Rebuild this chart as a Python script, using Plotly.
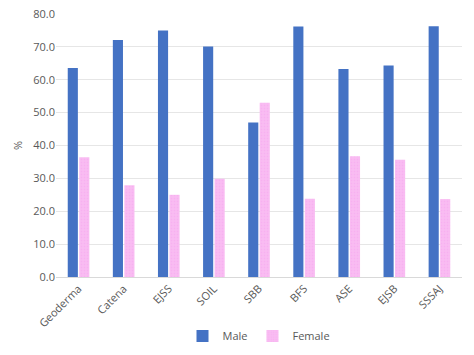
import plotly.graph_objects as go

categories = ["Geoderma", "Catena", "EJSS", "SOIL", "SBB", "BFS", "ASE", "EJSB", "SSSAJ"]
male = [63.6, 72.1, 75.0, 70.1, 47.0, 76.2, 63.3, 64.3, 76.3]
female = [36.4, 27.9, 25.0, 29.9, 53.0, 23.8, 36.7, 35.7, 23.7]
y_ticks = [0, 10, 20, 30, 40, 50, 60, 70, 80]

fig = go.Figure()
fig.add_trace(go.Bar(x=categories, y=male, name="Male",
                     marker=dict(color="#4472C4", line=dict(width=0))))
fig.add_trace(go.Bar(x=categories, y=female, name="Female",
                     marker=dict(color="#F9BDF3", line=dict(width=0),
                                 pattern=dict(shape=".", fgcolor="#F5A6EE", size=3, solidity=0.3))))

font_col = "#595959"
fig.update_layout(
    width=474, height=355,
    margin=dict(l=56, r=12, t=14, b=78, autoexpand=False),
    paper_bgcolor="white", plot_bgcolor="white",
    barmode="group", bargap=0.49, bargroupgap=0.12,
    font=dict(family="Open Sans, Liberation Sans, sans-serif", size=11, color=font_col),
    showlegend=True,
    legend=dict(orientation="h", x=0.5, xanchor="center", y=-0.224, yanchor="middle",
                font=dict(size=11, color=font_col), itemwidth=30),
    xaxis=dict(tickangle=-45, showgrid=False, showline=True, linecolor="#D9D9D9",
               ticks="", tickfont=dict(size=11, color=font_col), automargin=False),
    yaxis=dict(range=[0, 80], tickvals=y_ticks, tickformat=".1f", showgrid=True,
               gridcolor="#E6E6E6", zeroline=False, showline=False, ticks="",
               ticklabeloverflow="allow",
               title=dict(text="%", font=dict(size=11, color=font_col), standoff=8),
               tickfont=dict(size=11, color=font_col), automargin=False),
)

fig.write_html("out.html", config={"displayModeBar": False},
               post_script="document.body.style.margin='0';")
